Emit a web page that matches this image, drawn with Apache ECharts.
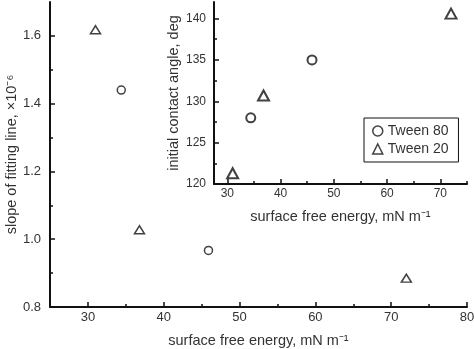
<!DOCTYPE html>
<html><head><meta charset="utf-8">
<script src="https://cdn.jsdelivr.net/npm/echarts@6/dist/echarts.min.js"></script>
<style>html,body{margin:0;padding:0;background:#fff}#c{width:474px;height:349px}</style>
</head><body><div id="c"></div>
<script>
// ---- data ----
const seriesNames = ['Tween 80', 'Tween 20'];
const energyT80 = [34.4, 45.9];
const energyT20 = [31.0, 36.8, 72.0];
const slopeT80 = [1.44, 0.967];
const slopeT20 = [1.618, 1.028, 0.885];
const angleT80 = [128.0, 135.0];
const angleT20 = [121.3, 130.7, 140.6];
const mainXTicks = [30, 40, 50, 60, 70, 80];
const mainXMinor = [35, 45, 55, 65, 75];
const mainYTicks = [0.8, 1.0, 1.2, 1.4, 1.6];
const mainYMinor = [0.9, 1.1, 1.3, 1.5];
const insetXTicks = [30, 40, 50, 60, 70];
const insetXMinor = [35, 45, 55, 65, 75];
const insetYTicks = [120, 125, 130, 135, 140];
const insetYMinor = [122.5, 127.5, 132.5, 137.5];

const pair = (xs, ys) => xs.map((x, i) => [x, ys[i]]);
const FONT = 'Liberation Sans, Arial, sans-serif';
const TXT = '#333';
const AX = '#111';

function axis(kind, grid, min, max, ticks, opts) {
  return Object.assign({
    type: 'value', gridIndex: grid, min: min, max: max,
    position: kind === 'x' ? 'bottom' : 'left',
    axisLine: { show: true, onZero: false, lineStyle: { color: AX, width: 2 } },
    axisTick: { show: true, inside: true, length: 5, customValues: ticks, lineStyle: { color: AX, width: 1.5 } },
    axisLabel: { customValues: ticks, color: TXT, fontFamily: FONT, fontSize: 13, margin: 4 },
    splitLine: { show: false },
    nameTextStyle: { color: TXT, fontFamily: FONT, fontSize: 14.5 },
    nameLocation: 'middle',
    nameMoveOverlap: false
  }, opts);
}
function minorAxis(kind, grid, min, max, ticks) {
  return {
    type: 'value', gridIndex: grid, min: min, max: max,
    position: kind === 'x' ? 'bottom' : 'left',
    axisLine: { show: false },
    axisTick: { show: true, inside: true, length: 3, customValues: ticks, lineStyle: { color: AX, width: 1.5 } },
    axisLabel: { show: false }, splitLine: { show: false }
  };
}

const chart = echarts.init(document.getElementById('c'));
chart.setOption({
  backgroundColor: '#fff',
  animation: false,
  grid: [
    { left: 50, right: 7, top: 2, bottom: 42, containLabel: false, outerBoundsMode: 'none' },
    { left: 214, right: 7, top: 2, bottom: 165, containLabel: false, outerBoundsMode: 'none' }
  ],
  xAxis: [
    axis('x', 0, 25, 80, mainXTicks, { name: 'surface free energy, mN m\u207B\u00B9', nameGap: 26 }),
    minorAxis('x', 0, 25, 80, mainXMinor),
    axis('x', 1, 27.5, 75, insetXTicks, { name: 'surface free energy, mN m\u207B\u00B9', nameGap: 25,
      axisLabel: { customValues: insetXTicks, color: TXT, fontFamily: FONT, fontSize: 12, margin: 4 } }),
    minorAxis('x', 1, 27.5, 75, insetXMinor)
  ],
  yAxis: [
    axis('y', 0, 0.8, 1.7, mainYTicks, { name: 'slope of fitting line, \u00D710\u207B\u2076', nameGap: 31,
      axisLabel: { customValues: mainYTicks, color: TXT, fontFamily: FONT, fontSize: 13, margin: 9,
        formatter: v => v.toFixed(1) } }),
    minorAxis('y', 0, 0.8, 1.7, mainYMinor),
    axis('y', 1, 120, 142, insetYTicks, { name: 'initial contact angle, deg', nameGap: 33,
      axisLabel: { customValues: insetYTicks, color: TXT, fontFamily: FONT, fontSize: 12, margin: 8 } }),
    minorAxis('y', 1, 120, 142, insetYMinor)
  ],
  legend: {
    left: 364, top: 118, orient: 'vertical',
    padding: [6, 10, 6, 8], itemGap: 4, itemWidth: 10, itemHeight: 10,
    borderColor: '#111', borderWidth: 1, backgroundColor: '#fff',
    textStyle: { color: TXT, fontFamily: FONT, fontSize: 14 },
    data: [
      { name: seriesNames[0], icon: 'circle', itemStyle: { color: '#fff', borderColor: '#111', borderWidth: 1.5 } },
      { name: seriesNames[1], icon: 'triangle', itemStyle: { color: '#fff', borderColor: '#111', borderWidth: 1.5 } }
    ]
  },
  series: [
    { type: 'scatter', name: seriesNames[0], xAxisIndex: 0, yAxisIndex: 0, data: pair(energyT80, slopeT80),
      symbol: 'circle', symbolSize: 8, itemStyle: { color: '#fff', borderColor: '#111', borderWidth: 1.5 } },
    { type: 'scatter', name: seriesNames[1], xAxisIndex: 0, yAxisIndex: 0, data: pair(energyT20, slopeT20),
      symbol: 'triangle', symbolSize: [10, 8], itemStyle: { color: '#fff', borderColor: '#111', borderWidth: 1.5 } },
    { type: 'scatter', name: seriesNames[0], xAxisIndex: 2, yAxisIndex: 2, data: pair(energyT80, angleT80),
      symbol: 'circle', symbolSize: 9, itemStyle: { color: '#fff', borderColor: '#111', borderWidth: 2 } },
    { type: 'scatter', name: seriesNames[1], xAxisIndex: 2, yAxisIndex: 2, data: pair(energyT20, angleT20),
      symbol: 'triangle', symbolSize: [11, 10], itemStyle: { color: '#fff', borderColor: '#111', borderWidth: 2 } }
  ]
});
</script></body></html>
